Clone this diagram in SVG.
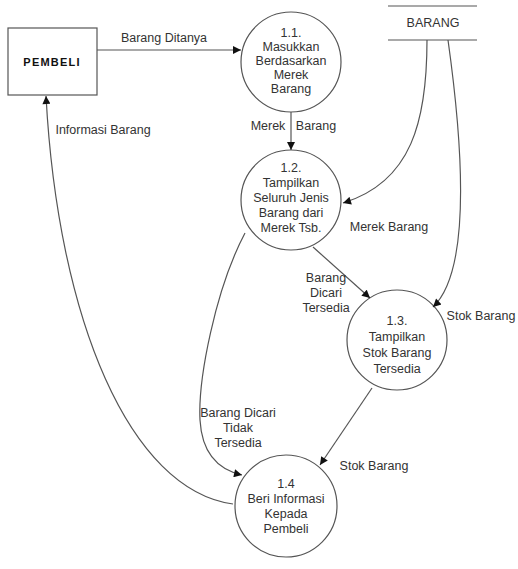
<svg xmlns="http://www.w3.org/2000/svg" width="518" height="569" viewBox="0 0 518 569">
<defs>
<marker id="ah" viewBox="0 0 10 10" refX="10" refY="5" markerWidth="10" markerHeight="8" markerUnits="userSpaceOnUse" orient="auto">
<path d="M0,0 L10,5 L0,10 z" fill="#111"/>
</marker>
<style>
.t{font-family:"Liberation Sans",Arial,sans-serif;font-size:12.5px;fill:#333;text-anchor:middle}
.n{fill:#fff;stroke:#555;stroke-width:1.2}
.c{fill:none;stroke:#555;stroke-width:1.2;marker-end:url(#ah)}
</style>
</defs>
<rect width="518" height="569" fill="#fff"/>
<g id="pembeli">
<rect class="n" x="8" y="28" width="89" height="67"/>
<text class="t" x="52" y="66" style="font-weight:bold;font-size:11px;letter-spacing:1.2px;fill:#111">PEMBELI</text>
</g>
<g id="barang">
<line x1="388" y1="6" x2="477" y2="6" stroke="#555" stroke-width="1.2"/>
<line x1="388" y1="40" x2="477" y2="40" stroke="#555" stroke-width="1.2"/>
<text class="t" x="433" y="27">BARANG</text>
</g>
<g id="p11">
<circle class="n" cx="291" cy="62" r="50"/>
<text class="t" x="291" y="37">1.1.</text>
<text class="t" x="291" y="51">Masukkan</text>
<text class="t" x="291" y="65">Berdasarkan</text>
<text class="t" x="291" y="79">Merek</text>
<text class="t" x="291" y="93">Barang</text>
</g>
<g id="p12">
<circle class="n" cx="291" cy="200" r="50"/>
<text class="t" x="291" y="172">1.2.</text>
<text class="t" x="291" y="187">Tampilkan</text>
<text class="t" x="291" y="202">Seluruh Jenis</text>
<text class="t" x="291" y="217">Barang dari</text>
<text class="t" x="291" y="232">Merek Tsb.</text>
</g>
<g id="p13">
<circle class="n" cx="397" cy="340" r="50"/>
<text class="t" x="397" y="325">1.3.</text>
<text class="t" x="397" y="341">Tampilkan</text>
<text class="t" x="397" y="357">Stok Barang</text>
<text class="t" x="397" y="373">Tersedia</text>
</g>
<g id="p14">
<circle class="n" cx="286" cy="506" r="51"/>
<text class="t" x="286" y="488">1.4</text>
<text class="t" x="286" y="503">Beri Informasi</text>
<text class="t" x="286" y="518">Kepada</text>
<text class="t" x="286" y="533">Pembeli</text>
</g>
<g id="connectors">
<path class="c" d="M97,50 L241,50"/>
<path class="c" d="M291,112 L291,150"/>
<path class="c" d="M427,40 C427,120 412,182 343,203"/>
<path class="c" d="M448,40 C462,140 472,270 433,307"/>
<path class="c" d="M313,247 L370,298"/>
<path class="c" d="M372,388 L320,465"/>
<path class="c" d="M245,233 C215,290 198,380 200,420 C202,455 220,470 242,475"/>
<path class="c" d="M233,504 C130,490 58,320 46,96"/>
</g>
<g id="labels">
<text class="t" x="164" y="42">Barang Ditanya</text>
<text class="t" x="268" y="130">Merek</text>
<text class="t" x="316" y="130">Barang</text>
<text class="t" x="103" y="134">Informasi Barang</text>
<text class="t" x="389" y="231">Merek Barang</text>
<text class="t" x="326" y="282">Barang</text>
<text class="t" x="326" y="297">Dicari</text>
<text class="t" x="326" y="312">Tersedia</text>
<text class="t" x="481" y="320">Stok Barang</text>
<text class="t" x="238" y="417">Barang Dicari</text>
<text class="t" x="238" y="432">Tidak</text>
<text class="t" x="238" y="447">Tersedia</text>
<text class="t" x="374" y="470">Stok Barang</text>
</g>
</svg>
